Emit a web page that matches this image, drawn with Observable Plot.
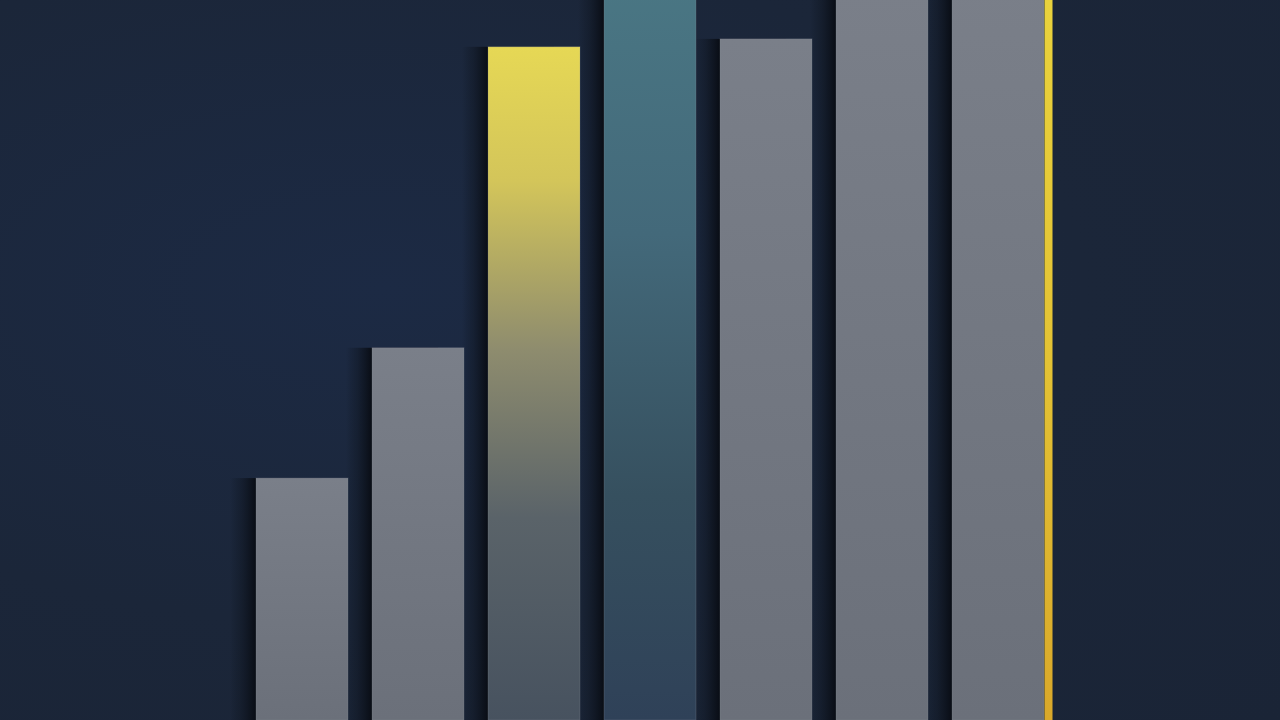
<!DOCTYPE html>
<html>
<head>
<meta charset="utf-8">
<script src="https://cdn.jsdelivr.net/npm/d3@7"></script>
<script src="https://cdn.jsdelivr.net/npm/@observablehq/plot@0.6"></script>
<style>
  html, body { margin: 0; padding: 0; background: #1b2639; overflow: hidden; }
  #chart { width: 1280px; height: 720px; background: radial-gradient(ellipse at 30% 40%, #1c2a44 0%, #1b2639 55%, #1a2436 100%); }
  svg { display: block; }
</style>
</head>
<body>
<div id="chart"></div>
<script>
// Data
const categories = ["1", "2", "3", "4", "5", "6", "7"];
const values = [33.6, 51.7, 93.5, 104, 94.6, 101, 102];
const highlightYellow = "3";
const highlightTeal = "4";
const markerCategory = "7";

const data = categories.map((c, i) => ({ cat: c, value: values[i] }));

const fillFor = d =>
  d.cat === highlightYellow ? "url(#gYellow)" :
  d.cat === highlightTeal ? "url(#gTeal)" : "url(#gGray)";

const chart = Plot.plot({
  width: 1280,
  height: 720,
  margin: 0,
  style: { background: "transparent", overflow: "hidden" },
  x: { domain: categories, range: [255, 1045], paddingInner: 0.21, paddingOuter: 0, axis: null },
  y: { domain: [0, 100], range: [720, 0], axis: null },
  marks: [
    Plot.barY(data, { x: "cat", y: "value", dx: -26, fill: "url(#gShadow)", clip: true }),
    Plot.barY(data, { x: "cat", y: "value", fill: fillFor, stroke: "#8a909a", strokeOpacity: 0.25, strokeWidth: 1, clip: true }),
    Plot.ruleX(data.filter(d => d.cat === markerCategory), { x: "cat", y1: 0, y2: "value", dx: 50, stroke: "url(#gLine)", strokeWidth: 8, clip: true })
  ]
});

const svg = d3.select(chart);
const defs = svg.insert("defs", ":first-child");
function vgrad(id, stops, horizontal, user) {
  const g = defs.append("linearGradient").attr("id", id);
  if (user) {
    g.attr("gradientUnits", "userSpaceOnUse").attr("x1", 0).attr("y1", 0).attr("x2", 0).attr("y2", 720);
  } else {
    g.attr("x1", 0).attr("y1", 0).attr("x2", horizontal ? 1 : 0).attr("y2", horizontal ? 0 : 1);
  }
  stops.forEach(([o, c, op]) => g.append("stop").attr("offset", o).attr("stop-color", c).attr("stop-opacity", op == null ? 1 : op));
}
vgrad("gGray", [[0, "#7a7f89"], [1, "#6b707a"]]);
vgrad("gYellow", [[0, "#e6d855"], [0.2, "#d3c55a"], [0.45, "#8e8c6e"], [0.7, "#5a6369"], [1, "#47525f"]]);
vgrad("gTeal", [[0, "#4a7784"], [0.35, "#43697a"], [0.7, "#36505f"], [1, "#2f4158"]]);
vgrad("gLine", [[0, "#e9d23c"], [0.5, "#e3c234"], [1, "#d9a82a"]], false, true);
vgrad("gShadow", [[0, "#0b111a", 0], [0.12, "#0d131d", 0.4], [0.28, "#090d15", 1], [1, "#090d15", 1]], true);

document.getElementById("chart").appendChild(chart);
</script>
</body>
</html>
